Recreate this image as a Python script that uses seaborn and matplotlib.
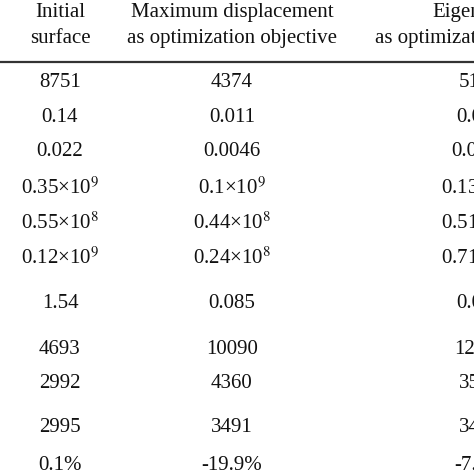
import matplotlib
matplotlib.use("Agg")
import matplotlib.pyplot as plt
import seaborn as sns

# -----------------------------
# Table contents
# -----------------------------
headers = [
    ("Initial", "surface"),
    ("Maximum displacement", "as optimization objective"),
    ("Eigenvalue", "as optimization objective"),
]
initial = ["8751", "0.14", "0.022", r"0.35×10$^{9}$", r"0.55×10$^{8}$",
           r"0.12×10$^{9}$", "1.54", "4693", "2992", "2995", "0.1%"]
max_disp = ["4374", "0.011", "0.0046", r"0.1×10$^{9}$", r"0.44×10$^{8}$",
            r"0.24×10$^{8}$", "0.085", "10090", "4360", "3491", "-19.9%"]
eigen = ["5102", "0.012", "0.0050", r"0.13×10$^{9}$", r"0.51×10$^{8}$",
         r"0.71×10$^{8}$", "0.092", "12010", "3590", "3420", "-7.5%"]

row_y = [82, 117, 152, 188, 223, 258, 303, 350, 383, 428, 466]
col_x = [60, 232, 480]

# -----------------------------
# Figure
# -----------------------------
sns.set_style("white")
plt.rcParams["font.family"] = ["Liberation Serif", "DejaVu Serif"]
plt.rcParams["mathtext.fontset"] = "stix"

fig = plt.figure(figsize=(4.74, 4.74), dpi=100)
ax = fig.add_axes([0, 0, 1, 1])
ax.set_xlim(0, 474)
ax.set_ylim(474, 0)
ax.axis("off")

txt = dict(fontsize=15, ha="center", va="center", color="#111111")

for x, (l1, l2) in zip(col_x, headers):
    ax.text(x, 12, l1, **txt)
    ax.text(x, 38, l2, **txt)

ax.plot([0, 474], [62, 62], color="#333333", lw=1.6)

for col, x in zip([initial, max_disp, eigen], col_x):
    for val, y in zip(col, row_y):
        ax.text(x, y, val, **txt)

fig.savefig("out.png", dpi=100)
